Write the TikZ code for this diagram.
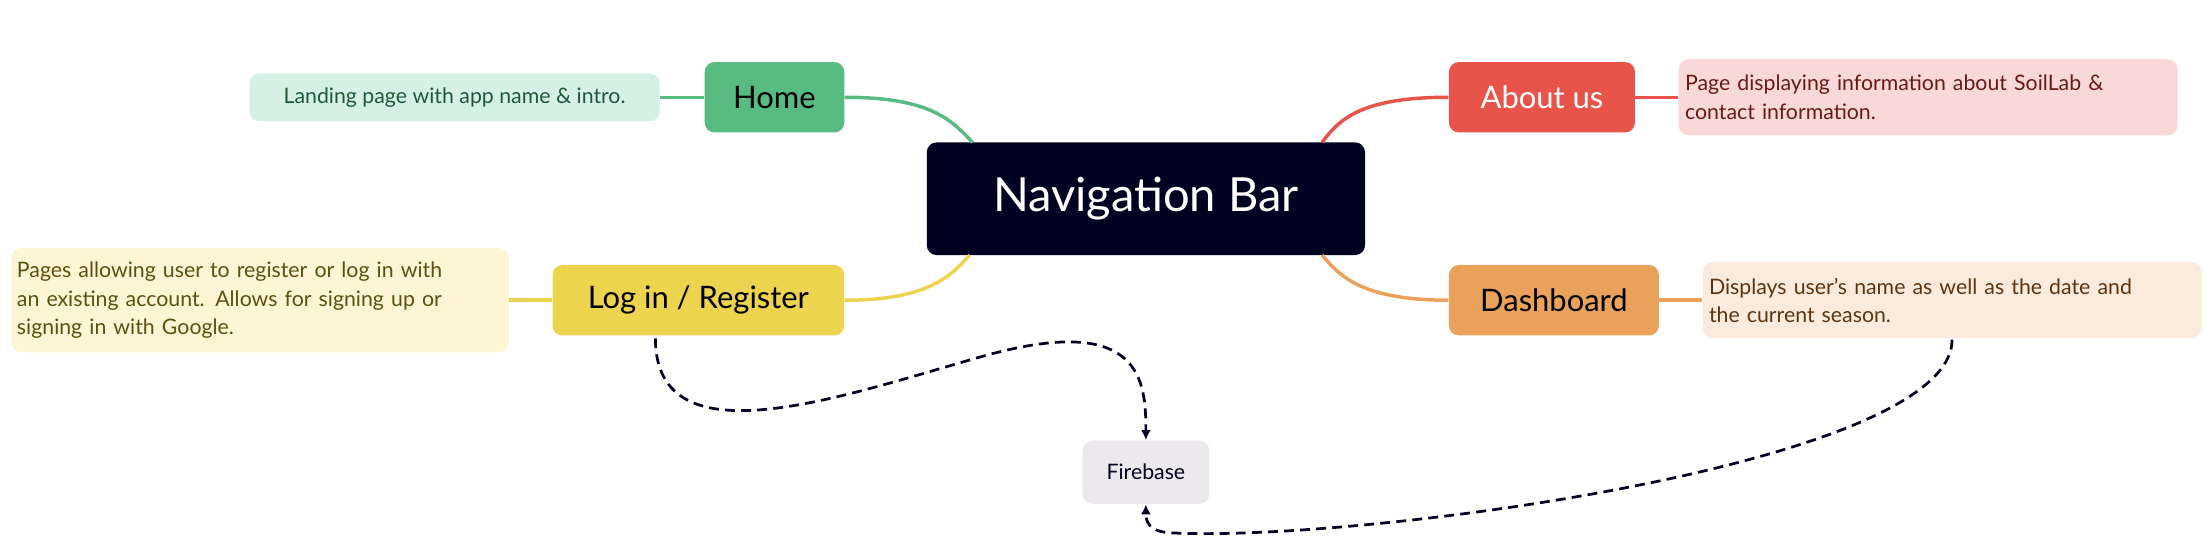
\documentclass[tikz,border=0pt]{standalone}
\usepackage{fontspec}
\setmainfont{Lato}
\usetikzlibrary{arrows.meta}
\definecolor{navy}{HTML}{000222}
\definecolor{hgreen}{HTML}{57BB82}\definecolor{lgreen}{HTML}{D5F0E4}\definecolor{tgreen}{HTML}{1E5A3A}
\definecolor{ared}{HTML}{E8534A}\definecolor{lred}{HTML}{F9D9D7}\definecolor{tred}{HTML}{6A1A16}
\definecolor{lyel}{HTML}{EDD44F}\definecolor{llyel}{HTML}{FDF5D3}\definecolor{tyel}{HTML}{5E5010}
\definecolor{dor}{HTML}{EAA25B}\definecolor{ldor}{HTML}{FBEBDC}\definecolor{tor}{HTML}{5E3410}
\definecolor{fgray}{HTML}{EBE9EC}
\tikzset{
 main/.style={rounded corners=4pt,inner sep=0pt,font=\fontsize{12.5}{14}\selectfont},
 desc/.style={rounded corners=4pt,inner sep=0pt,align=left,font=\fontsize{8.6}{11.5}\selectfont},
 link/.style={line width=1.4pt},
 dashlink/.style={line width=1.1pt,dash pattern=on 4pt off 2.5pt,navy,-{Latex[length=4pt,width=4pt]}}
}
\begin{document}
\begin{tikzpicture}[x=0.02cm,y=-0.02cm]
\useasboundingbox (0,0) rectangle (1568,387);
\node[main,fill=navy,text=white,minimum width=6.22cm,minimum height=1.6cm,font=\fontsize{19}{22}\selectfont] (nav) at (813,141) {Navigation Bar};
\node[main,fill=hgreen,minimum width=1.98cm,minimum height=1cm] (home) at (549.5,69) {Home};
\node[main,fill=ared,text=white,minimum width=2.64cm,minimum height=1cm] (about) at (1094,69) {About us};
\node[main,fill=lyel,minimum width=4.14cm,minimum height=1cm] (login) at (495.5,213) {Log in / Register};
\node[main,fill=dor,minimum width=2.98cm,minimum height=1cm] (dash) at (1102.5,213) {Dashboard};
\node[desc,fill=fgray,text=navy,minimum width=1.8cm,minimum height=0.9cm] (fb) at (813,335) {Firebase};
\node[desc,fill=lgreen,text=tgreen,minimum width=5.82cm,minimum height=0.68cm,align=center] (hd) at (322.5,69) {Landing page with app name \& intro.};
\node[desc,fill=lred,text=tred,minimum width=7.08cm,minimum height=1.08cm,text width=6.9cm] (ad) at (1368,69) {Page displaying information about SoilLab \&\\contact information.};
\node[desc,fill=llyel,text=tyel,minimum width=7.06cm,minimum height=1.48cm,text width=6.9cm] (ld) at (184.5,213) {Pages allowing user to register or log in with\\an existing account. Allows for signing up or\\signing in with Google.};
\node[desc,fill=ldor,text=tor,minimum width=7.08cm,minimum height=1.08cm,text width=6.9cm] (dd) at (1385,213) {Displays user's name as well as the date and\\the current season.};
\draw[link,hgreen] (hd.east) -- (home.west);
\draw[link,ared] (about.east) -- (ad.west);
\draw[link,lyel] (ld.east) -- (login.west);
\draw[link,dor] (dash.east) -- (dd.west);
\draw[link,hgreen] (home.east) .. controls (660,69) and (675,85) .. (690,101);
\draw[link,lyel] (login.east) .. controls (660,213) and (675,195) .. (688,181);
\draw[link,ared] (about.west) .. controls (965,69) and (950,85) .. (938,101);
\draw[link,dor] (dash.west) .. controls (965,213) and (950,195) .. (938,181);
\coordinate (ls) at (465,240);
\coordinate (ds) at (1385,241);
\draw[dashlink] (ls) .. controls (465,330) and (600,280) .. (700,252) .. controls (810,222) and (813,270) .. (fb.north);
\draw[dashlink] (ds) .. controls (1385,330) and (960,385) .. (830,378) .. controls (815,377) and (813,370) .. (fb.south);
\end{tikzpicture}
\end{document}
